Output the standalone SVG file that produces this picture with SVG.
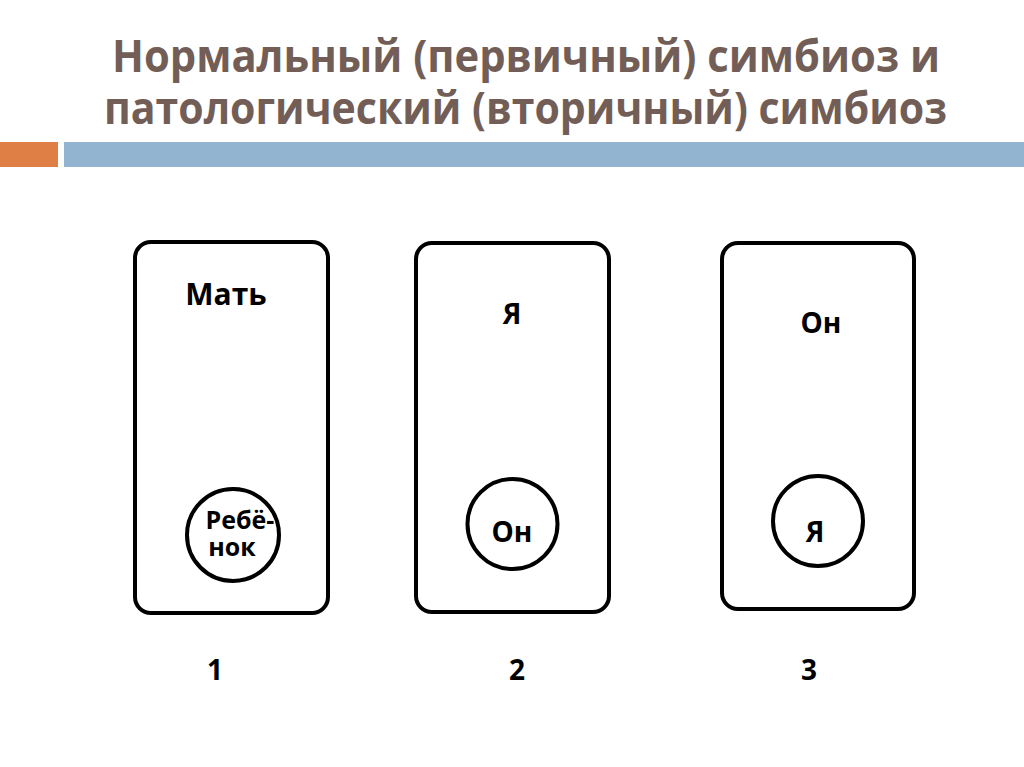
<svg xmlns="http://www.w3.org/2000/svg" width="1024" height="767" viewBox="0 0 1024 767">
<style>
.title{font-family:"Open Sans","Liberation Sans",sans-serif;font-weight:700;font-size:45px;fill:#725e56}
.box{fill:#fff;stroke:#000;stroke-width:4}
.circ{fill:#fff;stroke:#000;stroke-width:4}
.lbl{font-family:"Open Sans","Liberation Sans",sans-serif;font-weight:700;fill:#000;text-anchor:middle}
</style>
<rect x="0" y="0" width="1024" height="767" fill="#fff"/>
<text class="title" x="112" y="72" textLength="828" lengthAdjust="spacingAndGlyphs">Нормальный (первичный) симбиоз и</text>
<text class="title" x="104" y="124" textLength="843" lengthAdjust="spacingAndGlyphs">патологический (вторичный) симбиоз</text>
<rect x="0" y="142" width="58" height="25" fill="#e07f45"/>
<rect x="64" y="142" width="960" height="25" fill="#93b4d1"/>
<g id="node1">
<rect class="box" x="135" y="242" width="193" height="371" rx="16"/>
<text class="lbl" x="226" y="305" font-size="30">Мать</text>
<circle class="circ" cx="233" cy="535" r="46"/>
<text class="lbl" x="240" y="529" font-size="25">Ребё-</text>
<text class="lbl" x="232" y="556" font-size="25">нок</text>
<text class="lbl" x="215" y="680" font-size="28">1</text>
</g>
<g id="node2">
<rect class="box" x="416" y="243" width="193" height="369" rx="16"/>
<text class="lbl" x="512" y="324" font-size="28">Я</text>
<circle class="circ" cx="512.5" cy="524" r="45"/>
<text class="lbl" x="512" y="542" font-size="28">Он</text>
<text class="lbl" x="517" y="680" font-size="28">2</text>
</g>
<g id="node3">
<rect class="box" x="722" y="243" width="192" height="366" rx="16"/>
<text class="lbl" x="821" y="333" font-size="28">Он</text>
<circle class="circ" cx="818" cy="521" r="45"/>
<text class="lbl" x="815" y="542" font-size="28">Я</text>
<text class="lbl" x="809" y="680" font-size="28">3</text>
</g>
<g id="connectors"></g>
</svg>
